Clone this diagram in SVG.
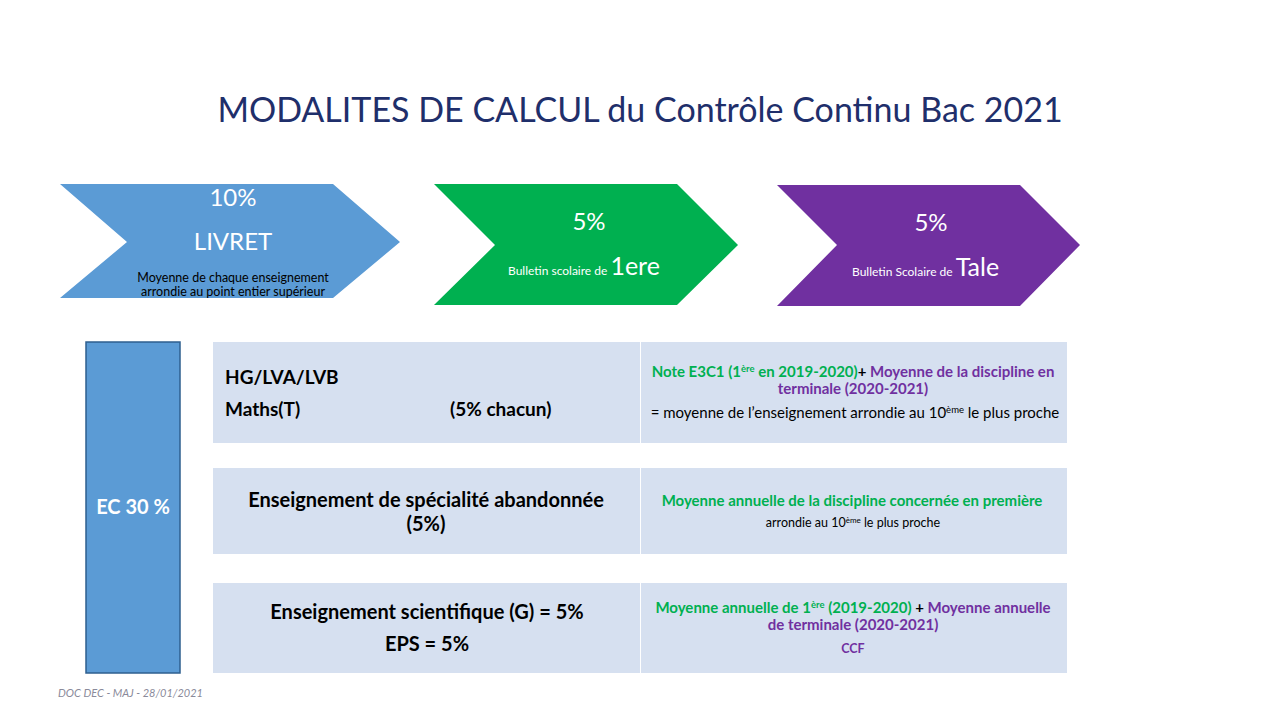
<svg xmlns="http://www.w3.org/2000/svg" width="1280" height="720" viewBox="0 0 1280 720">
<style>
text{font-family:Lato,"Liberation Sans",sans-serif}
.w{fill:#fff}
.cell{fill:#d6e0f0}
.b{font-weight:bold}
.g{fill:#00b050}
.p{fill:#7030a0}
.k{fill:#000}
</style>
<rect width="1280" height="720" fill="#fff"/>
<text x="640" y="122" text-anchor="middle" font-size="34" fill="#1f2f6b">MODALITES DE CALCUL du Contrôle Continu Bac 2021</text>
<g id="livret">
<polygon points="60,184 333,184 400,242 333,298 60,298 127,242" fill="#5b9bd5"/>
<text x="233" y="206" text-anchor="middle" font-size="24" class="w">10%</text>
<text x="233" y="250" text-anchor="middle" font-size="24" class="w">LIVRET</text>
<text x="233" y="282" text-anchor="middle" font-size="12.5" class="k">Moyenne de chaque enseignement</text>
<text x="233" y="296" text-anchor="middle" font-size="12.5" class="k">arrondie au point entier supérieur</text>
</g>
<g id="premiere">
<polygon points="434,184 677,184 738,245 677,305 434,305 495,245" fill="#00b050"/>
<text x="589" y="230" text-anchor="middle" font-size="24" class="w">5%</text>
<text x="508" y="275" font-size="12" class="w">Bulletin scolaire de <tspan font-size="25">1ere</tspan></text>
</g>
<g id="terminale">
<polygon points="777,185 1020,185 1080,245 1020,306 777,306 837,245" fill="#7030a0"/>
<text x="931" y="231" text-anchor="middle" font-size="24" class="w">5%</text>
<text x="852" y="276" font-size="12" class="w">Bulletin Scolaire de <tspan font-size="25">Tale</tspan></text>
</g>
<g id="ec">
<rect x="86" y="342" width="94" height="331" fill="#5b9bd5" stroke="#2e5f8f" stroke-width="1.5"/>
<text x="133" y="514" text-anchor="middle" font-size="20" class="w b">EC 30 %</text>
</g>
<g id="row1">
<rect x="213" y="342" width="427" height="101" class="cell"/>
<rect x="641" y="342" width="426" height="101" class="cell"/>
<text x="225" y="384" font-size="19" class="b">HG/LVA/LVB</text>
<text x="225" y="416" font-size="19" class="b">Maths(T)</text>
<text x="450" y="416" font-size="19" class="b">(5% chacun)</text>
<text x="853" y="377" text-anchor="middle" font-size="15" class="b"><tspan class="g">Note E3C1 (1<tspan font-size="9.5" dy="-5">ère</tspan><tspan dy="5"> en 2019-2020)</tspan></tspan>+ <tspan class="p">Moyenne  de la discipline en</tspan></text>
<text x="853" y="394" text-anchor="middle" font-size="15" class="b p">terminale (2020-2021)</text>
<text x="855" y="418" text-anchor="middle" font-size="15">= moyenne de l’enseignement arrondie au 10<tspan font-size="9.5" dy="-5">ème</tspan><tspan dy="5"> le plus proche</tspan></text>
</g>
<g id="row2">
<rect x="213" y="468" width="427" height="86" class="cell"/>
<rect x="641" y="468" width="426" height="86" class="cell"/>
<text x="426" y="507" text-anchor="middle" font-size="20" class="b">Enseignement de spécialité abandonnée</text>
<text x="426" y="531" text-anchor="middle" font-size="20" class="b">(5%)</text>
<text x="852" y="506" text-anchor="middle" font-size="15" class="b g">Moyenne annuelle de la discipline concernée en première</text>
<text x="853" y="527" text-anchor="middle" font-size="12.5">arrondie au 10<tspan font-size="8" dy="-4">ème</tspan><tspan dy="4"> le plus proche</tspan></text>
</g>
<g id="row3">
<rect x="213" y="583" width="427" height="90" class="cell"/>
<rect x="641" y="583" width="426" height="90" class="cell"/>
<text x="427" y="619" text-anchor="middle" font-size="20" class="b">Enseignement scientifique (G) = 5%</text>
<text x="427" y="651" text-anchor="middle" font-size="20" class="b">EPS = 5%</text>
<text x="853" y="613" text-anchor="middle" font-size="15" class="b"><tspan class="g">Moyenne annuelle de 1<tspan font-size="9.5" dy="-5">ère</tspan><tspan dy="5"> (2019-2020)</tspan></tspan> + <tspan class="p">Moyenne annuelle</tspan></text>
<text x="853" y="630" text-anchor="middle" font-size="15" class="b p">de terminale (2020-2021)</text>
<text x="853" y="653" text-anchor="middle" font-size="12.5" class="b p">CCF</text>
</g>
<text x="58" y="697" font-size="11" font-style="italic" fill="#8a8a9a">DOC DEC - MAJ - 28/01/2021</text>
</svg>
